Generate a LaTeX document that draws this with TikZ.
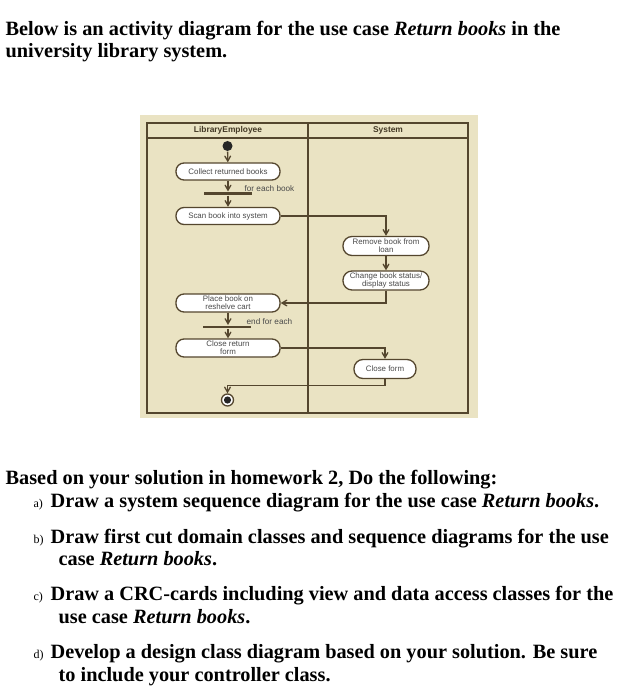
\documentclass[tikz,border=0pt]{standalone}
\usepackage{fontspec}
\setmainfont{Liberation Serif}
\newfontfamily\diagfont{Liberation Sans}
\usetikzlibrary{arrows,positioning}
\definecolor{paper}{HTML}{EAE3C3}
\definecolor{lane}{HTML}{54462E}
\definecolor{caption}{HTML}{4A4A4A}

\begin{document}
\begin{tikzpicture}[x=1pt,y=-1pt,>=angle 60,line width=1.3pt,
  activity/.style={rectangle,draw=lane,fill=white,rounded corners=8pt,
                   minimum height=17pt,minimum width=104pt,inner sep=1pt,
                   align=center,text=caption,
                   font=\diagfont\fontsize{7.9}{8}\selectfont},
  sysactivity/.style={activity,minimum width=86pt,minimum height=19pt,rounded corners=9pt},
  bar/.style={rectangle,fill=lane,draw=none,minimum width=48pt,minimum height=2.8pt,inner sep=0pt},
  lanehead/.style={font=\diagfont\bfseries\fontsize{8.4}{9}\selectfont,text=lane!80!black},
  note/.style={anchor=west,text=caption,font=\diagfont\fontsize{8.2}{9}\selectfont,inner sep=0pt},
  flow/.style={->,draw=lane},
  para/.style={anchor=base west,inner sep=0pt,font=\bfseries\fontsize{20.3}{23}\selectfont},
  itemmark/.style={anchor=base west,inner sep=0pt,font=\fontsize{12}{13}\selectfont}]

  \useasboundingbox (0,0) rectangle (625,700);
  \fill[white] (0,0) rectangle (625,700);

  % question text
  \node[para] (INTROA) at (5,36) {Below is an activity diagram for the use case \textit{Return books} in the};
  \node[para] (INTROB) at (5,58) {university library system.};

  % swimlanes
  \fill[paper] (140,115) rectangle (478,418);
  \draw[lane] (147,123) rectangle (468,413);
  \draw[lane] (147,138) -- (468,138);
  \draw[lane] (308,123) -- (308,413);
  \node[lanehead] (EMPLOYEE) at (228,130.5) {LibraryEmployee};
  \node[lanehead] (SYSTEM) at (388,130.5) {System};

  % activities
  \node[circle,fill=black!85,inner sep=0pt,minimum size=10pt] (START) at (227.5,146) {};
  \node[activity] (COLLECT) at (228,171.5) {Collect returned books};
  \node[bar] (FORK) at (228,193.5) {};
  \node[note] (FOREACH) at (244,189) {for each book};
  \node[activity] (SCAN) at (228,216) {Scan book into system};
  \node[sysactivity] (REMOVE) at (386,246) {Remove book from\\loan};
  \node[sysactivity] (CHANGE) at (386,280.5) {Change book status/\\display status};
  \node[activity,minimum height=18pt] (PLACE) at (228,303) {Place book on\\reshelve cart};
  \node[bar] (JOIN) at (227,327) {};
  \node[note] (ENDEACH) at (246,322) {end for each};
  \node[activity,minimum height=18pt] (CLOSERETURN) at (228,348) {Close return\\form};
  \node[sysactivity,minimum width=62pt] (CLOSEFORM) at (385,369) {Close form};
  \node[circle,draw=lane,fill=white,line width=1.3pt,inner sep=0pt,minimum size=12pt] (END) at (227.5,400) {};
  \fill[black!85] (END.center) circle (3.6pt);

  % flows
  \draw[flow] (START) -- (COLLECT);
  \draw[flow] (COLLECT) -- (COLLECT.south |- FORK.north);
  \draw[flow] (COLLECT.south |- FORK.south) -- (SCAN);
  \draw[flow] (SCAN.east) -| (REMOVE.north);
  \draw[flow] (REMOVE) -- (CHANGE);
  \draw[flow] (CHANGE.south) |- (PLACE.east);
  \draw[flow] (PLACE) -- (PLACE.south |- JOIN.north);
  \draw[flow] (PLACE.south |- JOIN.south) -- (CLOSERETURN);
  \draw[flow] (CLOSERETURN.east) -| (CLOSEFORM.north);
  \draw[flow] (CLOSEFORM.south) -- ++(0,6) -| (END.north);

  % tasks
  \node[para] (BASED) at (5,484) {Based on your solution in homework 2, Do the following:};
  \node[itemmark] (MARKA) at (33,507) {a)};
  \node[para] (TASKA) at (50,507) {Draw a system sequence diagram for the use case \textit{Return books}.};
  \node[itemmark] (MARKB) at (33,543) {b)};
  \node[para] (TASKB) at (50,543) {Draw first cut domain classes and sequence diagrams for the use};
  \node[para] (TASKBB) at (58,565) {case \textit{Return books}.};
  \node[itemmark] (MARKC) at (33,600) {c)};
  \node[para] (TASKC) at (50,600) {Draw a CRC-cards including view and data access classes for the};
  \node[para] (TASKCC) at (58,623) {use case \textit{Return books}.};
  \node[itemmark] (MARKD) at (33,658) {d)};
  \node[para] (TASKD) at (50,658) {Develop a design class diagram based on your solution. Be sure};
  \node[para] (TASKDD) at (58,681) {to include your controller class.};
\end{tikzpicture}
\end{document}
